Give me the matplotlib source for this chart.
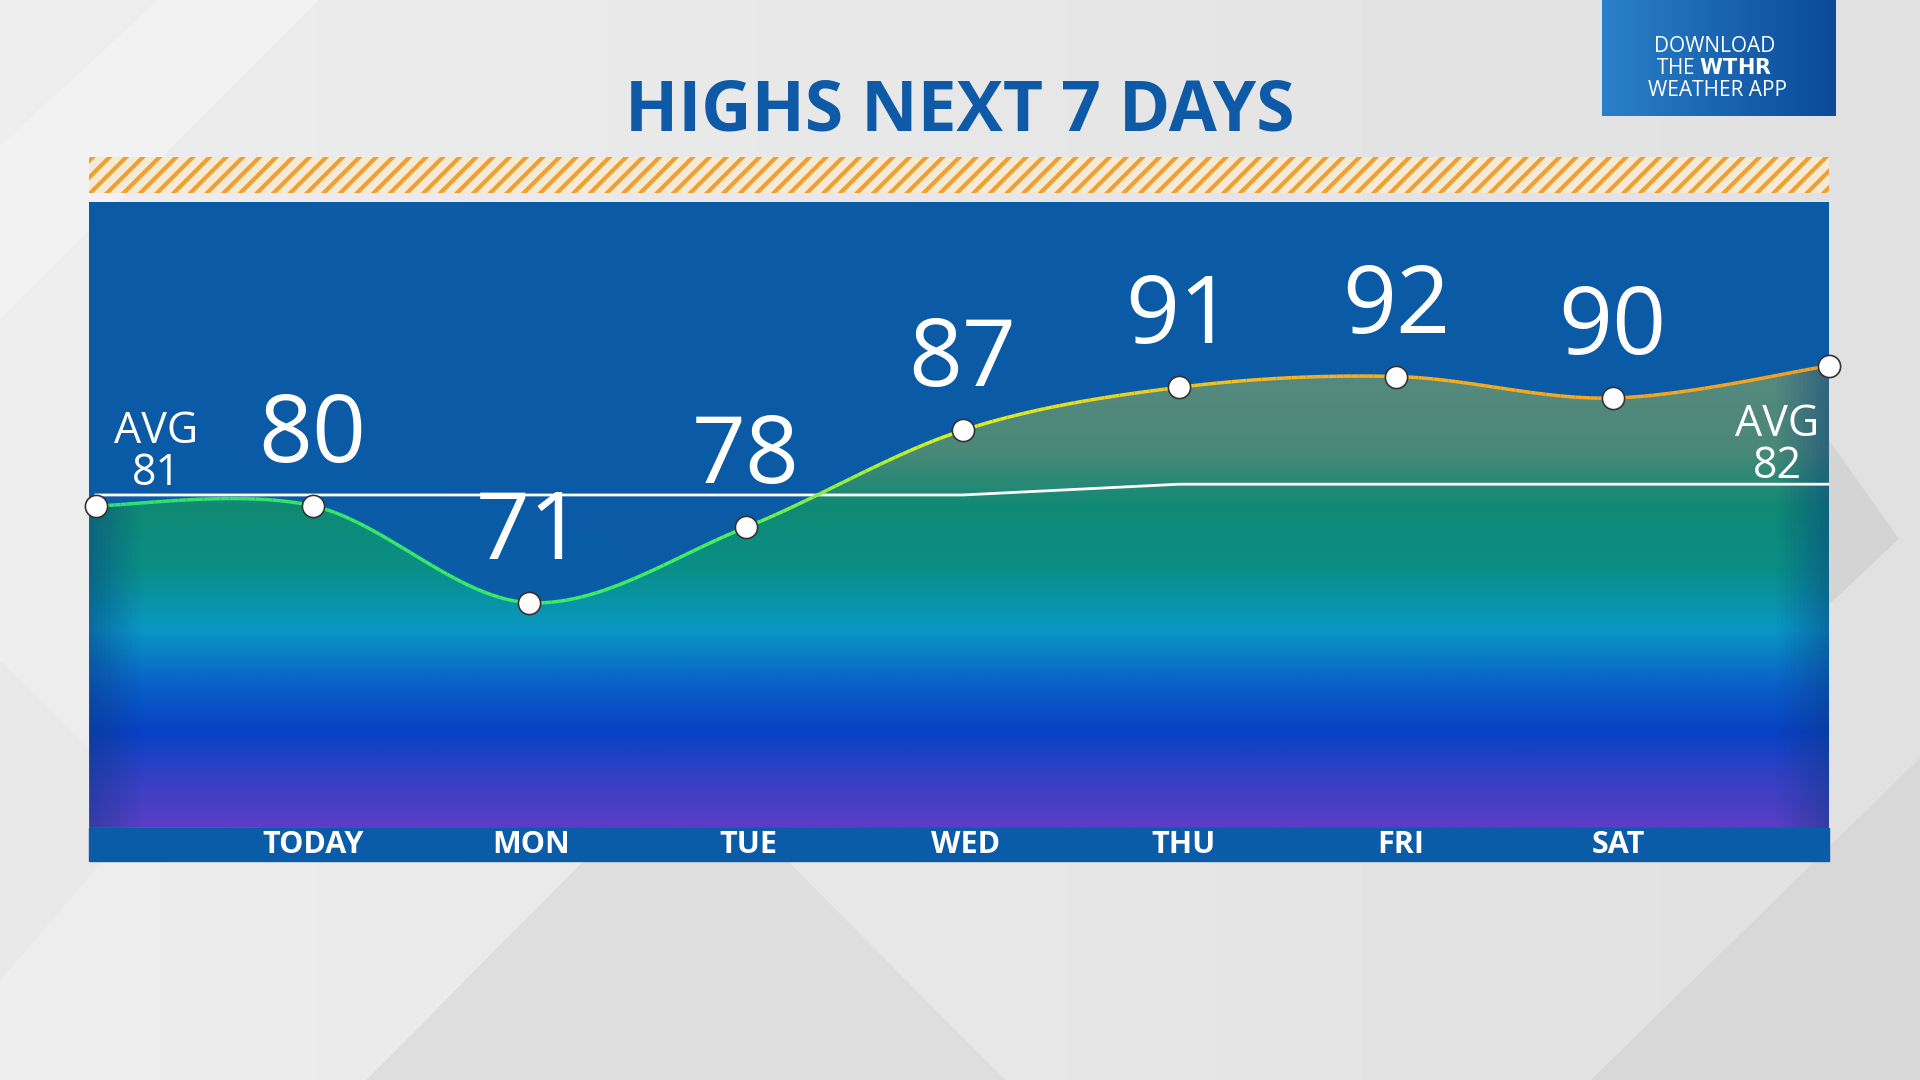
import numpy as np
import matplotlib
matplotlib.use("Agg")
import matplotlib.pyplot as plt
from matplotlib.colors import LinearSegmentedColormap
from matplotlib.patches import Rectangle, Polygon, PathPatch
from matplotlib.path import Path
from matplotlib.collections import LineCollection

days = ["TODAY", "MON", "TUE", "WED", "THU", "FRI", "SAT"]
highs = [80, 71, 78, 87, 91, 92, 90]
edge_start = 80
edge_end = 93
avg_vals = [81, 81, 81, 81, 81, 82, 82, 82, 82]
avg_left, avg_right = 81, 82

plt.rcParams['hatch.linewidth'] = 3.0
fig = plt.figure(figsize=(19.2, 10.8), dpi=100)
S = 1920 / 1568
bg = fig.add_axes([0, 0, 1, 1])
bg.set_xlim(0, 1568); bg.set_ylim(882, 0); bg.axis("off")
grad = np.linspace(0, 1, 200)[None, :] * np.ones((100, 1))
bg.imshow(0.93 - 0.05 * grad, cmap="gray", vmin=0, vmax=1, extent=[0, 1568, 882, 0], aspect="auto")
for poly, c in [([(0, 120), (130, 0), (260, 0), (0, 260)], "#f2f2f2"),
                ([(300, 882), (560, 620), (820, 882)], "#dedede"),
                ([(1300, 882), (1568, 620), (1568, 882)], "#d8d8d8"),
                ([(1380, 200), (1550, 440), (1380, 600)], "#d4d4d4"),
                ([(0, 540), (120, 660), (0, 800)], "#e9e9e9")]:
    bg.add_patch(Polygon(poly, closed=True, color=c, zorder=1))
bg.text(784, 92, "HIGHS NEXT 7 DAYS", ha="center", va="center", fontsize=50,
        fontweight="bold", color="#0e5aa7", family="Open Sans")
bg.add_patch(Rectangle((73, 128), 1421, 30, facecolor="#f6ead6", edgecolor="#f0a030",
                       hatch="//", lw=0, zorder=2))
bg.imshow(np.linspace(0, 1, 50)[None, :], cmap=LinearSegmentedColormap.from_list("l", ["#2a80c8", "#0a4a9a"]),
          extent=[1308, 1499, 95, 0], aspect="auto", zorder=2)
bg.text(1400, 38, "DOWNLOAD", ha="center", va="center", color="white", fontsize=15, family="Open Sans", zorder=3)
bg.text(1400, 56, "THE $\\bf{WTHR}$", ha="center", va="center", color="white", fontsize=15, family="Open Sans", zorder=3)
bg.text(1403, 74, "WEATHER APP", ha="center", va="center", color="white", fontsize=15, family="Open Sans", zorder=3)
bg.add_patch(Rectangle((73, 676), 1421, 27, color="#0a5ca8", zorder=2))
bg.set_xlim(0, 1568); bg.set_ylim(882, 0)

ax = fig.add_axes([73 * S / 1920, 1 - 676 * S / 1080, 1421 * S / 1920, 511 * S / 1080])
ax.set_xlim(-0.03, 8.0)
ylo, yhi = 50.1, 108.2
ax.set_ylim(ylo, yhi)
ax.axis("off")
panel = LinearSegmentedColormap.from_list("p", ["#4a88c4", "#0c5ea8", "#0a5aa6"])
xx, yy = np.meshgrid(np.linspace(0, 1, 100), np.linspace(0, 1, 60))
ax.imshow(np.clip(np.sqrt(xx**2 * 4 + yy**2 * 2), 0, 1), cmap=panel, extent=[-0.03, 8, yhi, ylo],
          aspect="auto", zorder=0)

xs = np.arange(9)
ys = np.array([edge_start] + highs + [edge_end], float)
verts = [(xs[0], ys[0])]; codes = [Path.MOVETO]
P = np.column_stack([xs, ys])
Pext = np.vstack([P[0], P, P[-1]])
for i in range(len(P) - 1):
    p0, p1, p2, p3 = Pext[i], Pext[i + 1], Pext[i + 2], Pext[i + 3]
    c1 = p1 + (p2 - p0) / 6; c2 = p2 - (p3 - p1) / 6
    verts += [tuple(c1), tuple(c2), tuple(p2)]; codes += [Path.CURVE4] * 3
fill_path = Path(verts + [(8, ylo), (-0.03, ylo), (-0.03, ys[0]), (xs[0], ys[0])],
                 codes + [Path.LINETO] * 4)
fillcm = LinearSegmentedColormap.from_list("f", [
    (0.0, "#5a3ec4"), (0.12, "#2e40c4"), (0.2, "#0840c4"), (0.3, "#0960c8"),
    (0.42, "#0998c4"), (0.55, "#0a8e86"), (0.68, "#0f8a74"), (0.8, "#4a8878"), (1.0, "#5a8a80")])
gy = np.linspace(0, 1, 300)[:, None] * np.ones((1, 2))
im = ax.imshow(gy, cmap=fillcm, origin="lower", extent=[-0.03, 8, ylo, 94], aspect="auto", zorder=1)
clip = PathPatch(fill_path, transform=ax.transData, facecolor="none", edgecolor="none")
ax.add_patch(clip)
im.set_clip_path(clip)
ex = np.linspace(0, 1, 400)
shade = np.clip(1 - np.minimum(ex, 1 - ex) / 0.03, 0, 1)[None, :]
sim = ax.imshow(np.dstack([np.full((1, 400), 0.04), np.full((1, 400), 0.22), np.full((1, 400), 0.5), shade * 0.45]),
                extent=[-0.03, 8, ylo, 94], aspect="auto", zorder=1.5)
sim.set_clip_path(clip)

ax.plot(xs, avg_vals, color="white", lw=2, zorder=3)

t = np.linspace(0, 1, 30)
pts = []
v = np.array(verts)
for k in range(0, len(v) - 1, 3):
    a, b, c, d = v[k], v[k + 1], v[k + 2], v[k + 3]
    seg = ((1 - t)**3)[:, None] * a + (3 * (1 - t)**2 * t)[:, None] * b + (3 * (1 - t) * t**2)[:, None] * c + (t**3)[:, None] * d
    pts.append(seg if k == 0 else seg[1:])
pts = np.vstack(pts)
segs = np.stack([pts[:-1], pts[1:]], axis=1)
linecm = LinearSegmentedColormap.from_list("c", [(0, "#30e070"), (0.35, "#40f060"), (0.5, "#e0f020"),
                                                  (0.7, "#f5b020"), (1, "#f5a020")])
lc = LineCollection(segs, colors=linecm((pts[:-1, 0] + 0.03) / 8.03), lw=2.5, zorder=4)
ax.add_collection(lc)
ax.plot(xs, ys, "o", ms=16, mfc="white", mec="#333333", mew=1.2, zorder=5, clip_on=False)

for i, h in enumerate(highs):
    ax.annotate(str(h), (xs[i + 1], h), xytext=(0, 44), textcoords="offset pixels",
                ha="center", va="baseline", fontsize=68, color="white", family="Open Sans", zorder=6)
kw = dict(ha="center", va="baseline", color="white", fontsize=31, family="Open Sans")
ax.text(0.28, 85.8, "AVG", **kw)
ax.text(0.28, 81.9, str(avg_left), **kw)
ax.text(7.76, 86.5, "AVG", **kw)
ax.text(7.76, 82.6, str(avg_right), **kw)

for i, d in enumerate(days):
    bg.text(78 + 177.7 * (i + 1), 690, d, ha="center", va="center", color="white", fontsize=22,
            fontweight="bold", family="Open Sans", zorder=4)

fig.savefig("out.png", dpi=100)
